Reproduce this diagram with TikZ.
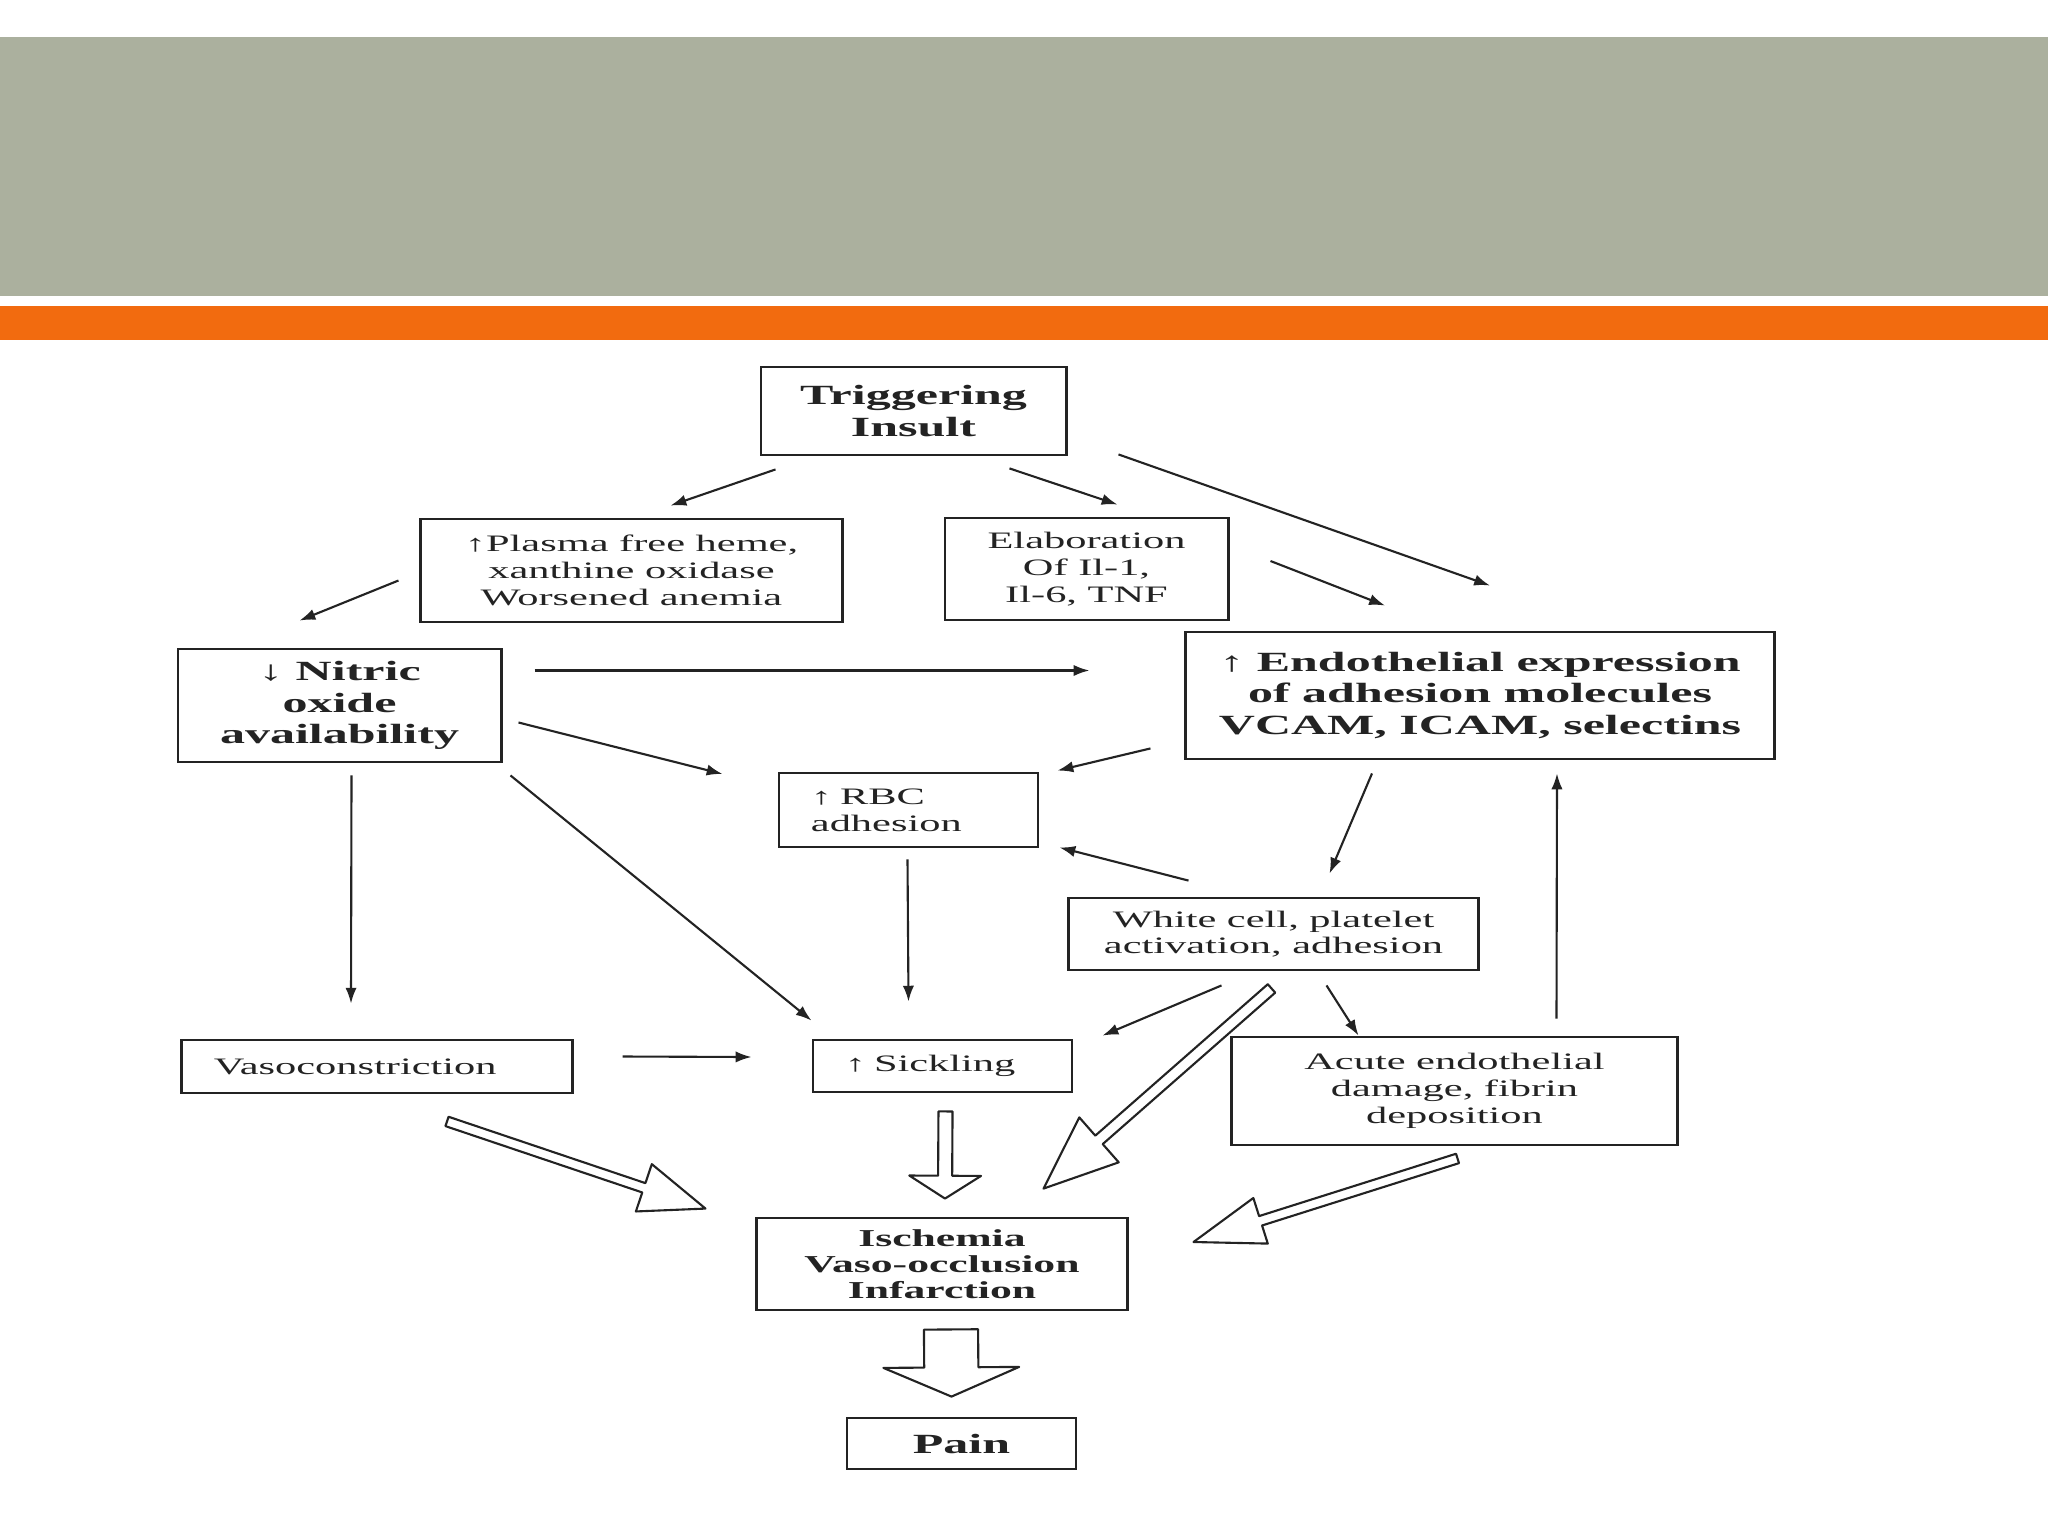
\documentclass[tikz,border=0pt]{standalone}
\usepackage{fontspec}
\setmainfont{Liberation Serif}[FakeStretch=1.8]
\usetikzlibrary{calc, arrows.meta, positioning}

\definecolor{slidegray}{RGB}{171,176,158}
\definecolor{slideorange}{RGB}{242,107,15}
\definecolor{ink}{RGB}{35,35,35}

% hollow block arrow: from, to, half shaft, half head, head length
\newcommand{\fatarrow}[5]{%
	\coordinate (fa-s) at #1;
	\coordinate (fa-t) at #2;
	\coordinate (fa-h) at ($(fa-t)!#5!(fa-s)$);
	\draw[hollow] ($(fa-s)!#3!90:(fa-t)$) -- ($(fa-h)!#3!90:(fa-t)$) -- ($(fa-h)!#4!90:(fa-t)$) -- (fa-t)
		-- ($(fa-h)!#4!-90:(fa-t)$) -- ($(fa-h)!#3!-90:(fa-t)$) -- ($(fa-s)!#3!-90:(fa-t)$) -- cycle;
}

\begin{document}
\begin{tikzpicture}[>={Latex[length=4.5pt, width=3.2pt]}, x=0.01cm, y=-0.01cm]
				\tikzstyle{box} = [draw=ink, line width=0.8pt, inner sep=0pt, align=center, text=ink, font=\fontsize{6.7}{7.6}\selectfont]
				\tikzstyle{bbox} = [box, font=\fontsize{7.9}{9}\selectfont\bfseries]
				\tikzstyle{lbox} = [box, align=left, inner xsep=0.32cm]
				\tikzstyle{link} = [ink, line width=0.6pt]
				\tikzstyle{hollow} = [draw=ink, line width=0.6pt, fill=white, line join=round]
				
				% slide
				\useasboundingbox (0, 0) rectangle (2048, 1536);
				\fill[white] (0, 0) rectangle (2048, 1536);
				\fill[slidegray] (0, 37) rectangle (2048, 296);
				\fill[slideorange] (0, 306) rectangle (2048, 340);
				
				\node[bbox, minimum width=3.05cm, minimum height=0.88cm] 	at (913.5, 411) 	(trig) 	{Triggering\\Insult};
				\node[box, minimum width=4.21cm, minimum height=1.03cm] 	at (631.5, 570.5) 	(plasma) 	{↑Plasma free heme,\\xanthine oxidase\\Worsened anemia};
				\node[box, minimum width=2.83cm, minimum height=1.02cm] 	at (1086.5, 569) 	(elab) 	{Elaboration\\Of Il-1,\\Il-6, TNF};
				\node[bbox, minimum width=3.23cm, minimum height=1.13cm] 	at (339.5, 705.5) 	(nitric) 	{↓ Nitric\\oxide\\availability};
				\node[bbox, minimum width=5.88cm, minimum height=1.27cm] 	at (1480, 695.5) 	(endo) 	{{\mdseries↑} Endothelial expression\\of adhesion molecules\\VCAM, ICAM, selectins};
				\node[lbox, text width=1.95cm, minimum height=0.74cm] 	at (908.5, 810) 	(rbc) 	{↑ RBC\\adhesion};
				\node[box, minimum width=4.09cm, minimum height=0.72cm] 	at (1273.5, 934) 	(white) 	{White cell, platelet\\activation, adhesion};
				\node[lbox, text width=3.26cm, minimum height=0.53cm] 	at (377, 1066.5) 	(vaso) 	{Vasoconstriction};
				\node[lbox, text width=1.95cm, minimum height=0.52cm] 	at (942.5, 1066) 	(sick) 	{↑ Sickling};
				\node[box, minimum width=4.45cm, minimum height=1.08cm] 	at (1454.5, 1091) 	(acute) 	{Acute endothelial\\damage, fibrin\\deposition};
				\node[bbox, font=\fontsize{6.9}{7.4}\selectfont\bfseries, minimum width=3.7cm, minimum height=0.92cm] 	at (942, 1264) 	(isch) 	{Ischemia\\Vaso-occlusion\\Infarction};
				\node[bbox, minimum width=2.29cm, minimum height=0.51cm] 	at (961.5, 1443.5) 	(pain) 	{Pain};
				
				\path[->, link]
				($(trig.south)+(-138, 13)$)	edge	($(plasma.north)+(39, -12)$)
				($(trig.south)+(96, 12)$)	edge	($(elab.north)+(31, -12)$)
				($(trig.south east)+(51, -2)$)	edge	($(endo.north)+(10, -45)$)
				($(elab.east)+(41, -8)$)	edge	($(endo.north)+(-95, -25)$)
				($(plasma.west)+(-21, 10)$)	edge	($(nitric.north)+(-40, -27)$)
				($(nitric.east)+(32, -35)$)	edge	($(endo.west)+(-95, -25)$)
				($(nitric.east)+(16, 17)$)	edge	($(rbc.west)+(-55, -36)$)
				($(endo.south west)+(-34, -12)$)	edge	($(rbc.north east)+(18, -1)$)
				($(endo.south)+(-108, 13)$)	edge	($(white.north)+(56, -23)$)
				($(acute.north)+(102, -17)$)	edge	($(endo.south)+(77, 13)$)
				($(white.north west)+(121, -16)$)	edge	($(rbc.south east)+(20, -1)$)
				($(nitric.south)+(12, 12)$)	edge	($(vaso.north)+(-26, -35)$)
				($(nitric.south east)+(8, 12)$)	edge	($(sick.north west)+(0, -18)$)
				($(rbc.south)+(-1, 11)$)	edge	($(sick.north)+(-34, -37)$)
				($(vaso.east)+(49, -10)$)	edge	($(sick.west)+(-60, -9)$)
				($(white.south)+(-52, 14)$)	edge	($(sick.north east)+(29, -3)$)
				($(white.south)+(53, 14)$)	edge	($(acute.north)+(-96, 0)$);
				
				\fatarrow{($(vaso.south)+(70, 27)$)}{($(isch.north west)+(-50, -8)$)}{1.4pt}{7.1pt}{18.5pt}
				\fatarrow{($(sick.south)+(3, 18)$)}{($(isch.north)+(3, -18)$)}{2pt}{10.2pt}{6.5pt}
				\fatarrow{($(white.south)+(-2, 17)$)}{($(isch.north east)+(-85, -28)$)}{1.6pt}{8.5pt}{21pt}
				\fatarrow{($(acute.south)+(3, 12)$)}{($(isch.east)+(65, -22)$)}{1.4pt}{6.8pt}{20pt}
				\fatarrow{($(isch.south)+(9, 18)$)}{($(pain.north)+(-10, -20)$)}{7.7pt}{19.3pt}{8.3pt}
\end{tikzpicture}
\end{document}
